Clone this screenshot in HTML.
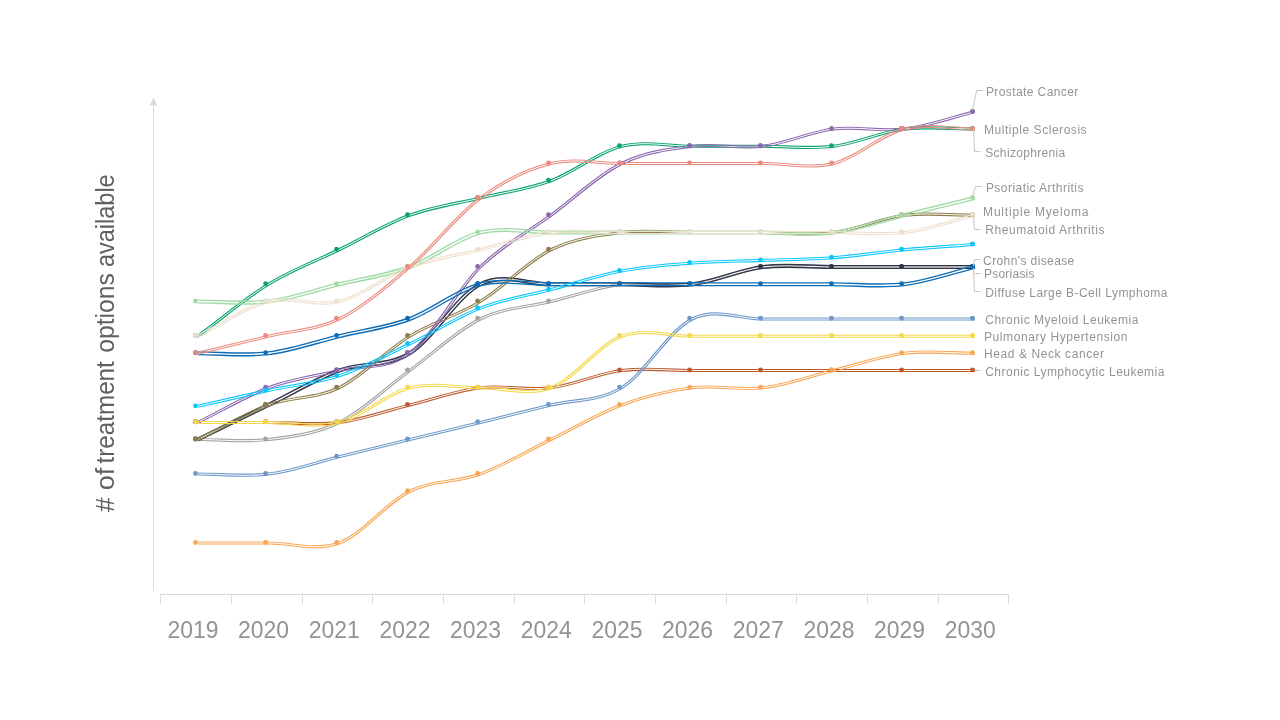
<!DOCTYPE html>
<html><head><meta charset="utf-8"><title>Treatment options</title>
<style>
html,body{margin:0;padding:0;background:#fff;}
body{width:1280px;height:720px;overflow:hidden;font-family:"Liberation Sans",sans-serif;}
svg{display:block;position:absolute;left:0;top:0;will-change:transform;}
.yr{font-family:"Liberation Sans",sans-serif;font-size:24.7px;fill:#939393;}
.lb{font-family:"Liberation Sans",sans-serif;font-size:12px;fill:#939393;}
.yt{font-family:"Liberation Sans",sans-serif;font-size:26px;fill:#606060;}
</style></head><body>
<svg width="1280" height="720" viewBox="0 0 1280 720">
<defs>
<mask id="m_gray" maskUnits="userSpaceOnUse" x="150" y="90" width="860" height="480"><path d="M197.80 439.50 C221.35 439.50 244.89 442.33 268.44 439.50 C291.98 436.67 315.53 434.00 339.07 422.50 C362.62 411.00 386.16 387.75 409.71 370.50 C433.25 353.25 456.80 330.50 480.34 319.00 C503.89 307.50 527.43 307.29 550.98 301.50 C574.53 295.71 598.07 287.12 621.62 284.25 C645.16 281.38 668.71 287.12 692.25 284.25 C715.80 281.38 739.34 269.88 762.89 267.00 C786.43 264.12 809.98 267.00 833.52 267.00 C857.07 267.00 880.61 267.00 904.16 267.00 C927.71 267.00 951.25 267.00 974.80 267.00" fill="none" stroke="#fff" stroke-width="3.1"/><path d="M197.80 439.50 C221.35 439.50 244.89 442.33 268.44 439.50 C291.98 436.67 315.53 434.00 339.07 422.50 C362.62 411.00 386.16 387.75 409.71 370.50 C433.25 353.25 456.80 330.50 480.34 319.00 C503.89 307.50 527.43 307.29 550.98 301.50 C574.53 295.71 598.07 287.12 621.62 284.25 C645.16 281.38 668.71 287.12 692.25 284.25 C715.80 281.38 739.34 269.88 762.89 267.00 C786.43 264.12 809.98 267.00 833.52 267.00 C857.07 267.00 880.61 267.00 904.16 267.00 C927.71 267.00 951.25 267.00 974.80 267.00" fill="none" stroke="#000" stroke-width="1.0"/></mask>
<mask id="m_navy" maskUnits="userSpaceOnUse" x="150" y="90" width="860" height="480"><path d="M197.80 439.50 C221.35 428.00 244.89 416.50 268.44 405.00 C291.98 393.50 315.53 379.12 339.07 370.50 C362.62 361.88 386.16 367.62 409.71 353.25 C433.25 338.88 456.80 295.75 480.34 284.25 C503.89 272.75 527.43 284.25 550.98 284.25 C574.53 284.25 598.07 284.25 621.62 284.25 C645.16 284.25 668.71 287.12 692.25 284.25 C715.80 281.38 739.34 269.88 762.89 267.00 C786.43 264.12 809.98 267.00 833.52 267.00 C857.07 267.00 880.61 267.00 904.16 267.00 C927.71 267.00 951.25 267.00 974.80 267.00" fill="none" stroke="#fff" stroke-width="4.1"/><path d="M197.80 439.50 C221.35 428.00 244.89 416.50 268.44 405.00 C291.98 393.50 315.53 379.12 339.07 370.50 C362.62 361.88 386.16 367.62 409.71 353.25 C433.25 338.88 456.80 295.75 480.34 284.25 C503.89 272.75 527.43 284.25 550.98 284.25 C574.53 284.25 598.07 284.25 621.62 284.25 C645.16 284.25 668.71 287.12 692.25 284.25 C715.80 281.38 739.34 269.88 762.89 267.00 C786.43 264.12 809.98 267.00 833.52 267.00 C857.07 267.00 880.61 267.00 904.16 267.00 C927.71 267.00 951.25 267.00 974.80 267.00" fill="none" stroke="#000" stroke-width="1.3"/></mask>
<mask id="m_brown" maskUnits="userSpaceOnUse" x="150" y="90" width="860" height="480"><path d="M197.80 422.50 C221.35 422.50 244.89 422.50 268.44 422.50 C291.98 422.50 315.53 425.42 339.07 422.50 C362.62 419.58 386.16 410.79 409.71 405.00 C433.25 399.21 456.80 390.62 480.34 387.75 C503.89 384.88 527.43 390.62 550.98 387.75 C574.53 384.88 598.07 373.38 621.62 370.50 C645.16 367.62 668.71 370.50 692.25 370.50 C715.80 370.50 739.34 370.50 762.89 370.50 C786.43 370.50 809.98 370.50 833.52 370.50 C857.07 370.50 880.61 370.50 904.16 370.50 C927.71 370.50 951.25 370.50 974.80 370.50" fill="none" stroke="#fff" stroke-width="3.1"/><path d="M197.80 422.50 C221.35 422.50 244.89 422.50 268.44 422.50 C291.98 422.50 315.53 425.42 339.07 422.50 C362.62 419.58 386.16 410.79 409.71 405.00 C433.25 399.21 456.80 390.62 480.34 387.75 C503.89 384.88 527.43 390.62 550.98 387.75 C574.53 384.88 598.07 373.38 621.62 370.50 C645.16 367.62 668.71 370.50 692.25 370.50 C715.80 370.50 739.34 370.50 762.89 370.50 C786.43 370.50 809.98 370.50 833.52 370.50 C857.07 370.50 880.61 370.50 904.16 370.50 C927.71 370.50 951.25 370.50 974.80 370.50" fill="none" stroke="#000" stroke-width="1.0"/></mask>
<mask id="m_dgreen" maskUnits="userSpaceOnUse" x="150" y="90" width="860" height="480"><path d="M197.80 336.25 C221.35 318.92 244.89 298.67 268.44 284.25 C291.98 269.83 315.53 261.25 339.07 249.75 C362.62 238.25 386.16 223.88 409.71 215.25 C433.25 206.62 456.80 203.75 480.34 198.00 C503.89 192.25 527.43 189.38 550.98 180.75 C574.53 172.12 598.07 152.00 621.62 146.25 C645.16 140.50 668.71 146.25 692.25 146.25 C715.80 146.25 739.34 146.25 762.89 146.25 C786.43 146.25 809.98 149.12 833.52 146.25 C857.07 143.38 880.61 131.88 904.16 129.00 C927.71 126.12 951.25 129.00 974.80 129.00" fill="none" stroke="#fff" stroke-width="3.1"/><path d="M197.80 336.25 C221.35 318.92 244.89 298.67 268.44 284.25 C291.98 269.83 315.53 261.25 339.07 249.75 C362.62 238.25 386.16 223.88 409.71 215.25 C433.25 206.62 456.80 203.75 480.34 198.00 C503.89 192.25 527.43 189.38 550.98 180.75 C574.53 172.12 598.07 152.00 621.62 146.25 C645.16 140.50 668.71 146.25 692.25 146.25 C715.80 146.25 739.34 146.25 762.89 146.25 C786.43 146.25 809.98 149.12 833.52 146.25 C857.07 143.38 880.61 131.88 904.16 129.00 C927.71 126.12 951.25 129.00 974.80 129.00" fill="none" stroke="#000" stroke-width="1.0"/></mask>
<mask id="m_cml" maskUnits="userSpaceOnUse" x="150" y="90" width="860" height="480"><path d="M197.80 474.00 C221.35 474.00 244.89 476.88 268.44 474.00 C291.98 471.12 315.53 462.50 339.07 456.75 C362.62 451.00 386.16 445.21 409.71 439.50 C433.25 433.79 456.80 428.25 480.34 422.50 C503.89 416.75 527.43 410.79 550.98 405.00 C574.53 399.21 598.07 402.08 621.62 387.75 C645.16 373.42 668.71 330.46 692.25 319.00 C715.80 307.54 739.34 319.00 762.89 319.00 C786.43 319.00 809.98 319.00 833.52 319.00 C857.07 319.00 880.61 319.00 904.16 319.00 C927.71 319.00 951.25 319.00 974.80 319.00" fill="none" stroke="#fff" stroke-width="3.1"/><path d="M197.80 474.00 C221.35 474.00 244.89 476.88 268.44 474.00 C291.98 471.12 315.53 462.50 339.07 456.75 C362.62 451.00 386.16 445.21 409.71 439.50 C433.25 433.79 456.80 428.25 480.34 422.50 C503.89 416.75 527.43 410.79 550.98 405.00 C574.53 399.21 598.07 402.08 621.62 387.75 C645.16 373.42 668.71 330.46 692.25 319.00 C715.80 307.54 739.34 319.00 762.89 319.00 C786.43 319.00 809.98 319.00 833.52 319.00 C857.07 319.00 880.61 319.00 904.16 319.00 C927.71 319.00 951.25 319.00 974.80 319.00" fill="none" stroke="#000" stroke-width="1.0"/></mask>
<mask id="m_olive" maskUnits="userSpaceOnUse" x="150" y="90" width="860" height="480"><path d="M197.80 439.50 C221.35 428.00 244.89 413.62 268.44 405.00 C291.98 396.38 315.53 399.21 339.07 387.75 C362.62 376.29 386.16 350.62 409.71 336.25 C433.25 321.88 456.80 315.92 480.34 301.50 C503.89 287.08 527.43 261.25 550.98 249.75 C574.53 238.25 598.07 235.38 621.62 232.50 C645.16 229.62 668.71 232.50 692.25 232.50 C715.80 232.50 739.34 232.50 762.89 232.50 C786.43 232.50 809.98 235.38 833.52 232.50 C857.07 229.62 880.61 218.12 904.16 215.25 C927.71 212.38 951.25 215.25 974.80 215.25" fill="none" stroke="#fff" stroke-width="3.1"/><path d="M197.80 439.50 C221.35 428.00 244.89 413.62 268.44 405.00 C291.98 396.38 315.53 399.21 339.07 387.75 C362.62 376.29 386.16 350.62 409.71 336.25 C433.25 321.88 456.80 315.92 480.34 301.50 C503.89 287.08 527.43 261.25 550.98 249.75 C574.53 238.25 598.07 235.38 621.62 232.50 C645.16 229.62 668.71 232.50 692.25 232.50 C715.80 232.50 739.34 232.50 762.89 232.50 C786.43 232.50 809.98 235.38 833.52 232.50 C857.07 229.62 880.61 218.12 904.16 215.25 C927.71 212.38 951.25 215.25 974.80 215.25" fill="none" stroke="#000" stroke-width="1.0"/></mask>
<mask id="m_purple" maskUnits="userSpaceOnUse" x="150" y="90" width="860" height="480"><path d="M197.80 422.50 C221.35 410.92 244.89 396.42 268.44 387.75 C291.98 379.08 315.53 376.25 339.07 370.50 C362.62 364.75 386.16 370.50 409.71 353.25 C433.25 336.00 456.80 290.00 480.34 267.00 C503.89 244.00 527.43 232.50 550.98 215.25 C574.53 198.00 598.07 175.00 621.62 163.50 C645.16 152.00 668.71 149.12 692.25 146.25 C715.80 143.38 739.34 149.12 762.89 146.25 C786.43 143.38 809.98 131.88 833.52 129.00 C857.07 126.12 880.61 131.88 904.16 129.00 C927.71 126.12 951.25 117.50 974.80 111.75" fill="none" stroke="#fff" stroke-width="3.1"/><path d="M197.80 422.50 C221.35 410.92 244.89 396.42 268.44 387.75 C291.98 379.08 315.53 376.25 339.07 370.50 C362.62 364.75 386.16 370.50 409.71 353.25 C433.25 336.00 456.80 290.00 480.34 267.00 C503.89 244.00 527.43 232.50 550.98 215.25 C574.53 198.00 598.07 175.00 621.62 163.50 C645.16 152.00 668.71 149.12 692.25 146.25 C715.80 143.38 739.34 149.12 762.89 146.25 C786.43 143.38 809.98 131.88 833.52 129.00 C857.07 126.12 880.61 131.88 904.16 129.00 C927.71 126.12 951.25 117.50 974.80 111.75" fill="none" stroke="#000" stroke-width="1.0"/></mask>
<mask id="m_lgreen" maskUnits="userSpaceOnUse" x="150" y="90" width="860" height="480"><path d="M197.80 301.50 C221.35 301.50 244.89 304.38 268.44 301.50 C291.98 298.62 315.53 290.00 339.07 284.25 C362.62 278.50 386.16 275.62 409.71 267.00 C433.25 258.38 456.80 238.25 480.34 232.50 C503.89 226.75 527.43 232.50 550.98 232.50 C574.53 232.50 598.07 232.50 621.62 232.50 C645.16 232.50 668.71 232.50 692.25 232.50 C715.80 232.50 739.34 232.50 762.89 232.50 C786.43 232.50 809.98 235.38 833.52 232.50 C857.07 229.62 880.61 221.00 904.16 215.25 C927.71 209.50 951.25 203.75 974.80 198.00" fill="none" stroke="#fff" stroke-width="4.1"/><path d="M197.80 301.50 C221.35 301.50 244.89 304.38 268.44 301.50 C291.98 298.62 315.53 290.00 339.07 284.25 C362.62 278.50 386.16 275.62 409.71 267.00 C433.25 258.38 456.80 238.25 480.34 232.50 C503.89 226.75 527.43 232.50 550.98 232.50 C574.53 232.50 598.07 232.50 621.62 232.50 C645.16 232.50 668.71 232.50 692.25 232.50 C715.80 232.50 739.34 232.50 762.89 232.50 C786.43 232.50 809.98 235.38 833.52 232.50 C857.07 229.62 880.61 221.00 904.16 215.25 C927.71 209.50 951.25 203.75 974.80 198.00" fill="none" stroke="#000" stroke-width="1.3"/></mask>
<mask id="m_beige" maskUnits="userSpaceOnUse" x="150" y="90" width="860" height="480"><path d="M197.80 336.25 C221.35 324.67 244.89 307.29 268.44 301.50 C291.98 295.71 315.53 307.25 339.07 301.50 C362.62 295.75 386.16 275.62 409.71 267.00 C433.25 258.38 456.80 255.50 480.34 249.75 C503.89 244.00 527.43 235.38 550.98 232.50 C574.53 229.62 598.07 232.50 621.62 232.50 C645.16 232.50 668.71 232.50 692.25 232.50 C715.80 232.50 739.34 232.50 762.89 232.50 C786.43 232.50 809.98 232.50 833.52 232.50 C857.07 232.50 880.61 235.38 904.16 232.50 C927.71 229.62 951.25 221.00 974.80 215.25" fill="none" stroke="#fff" stroke-width="3.1"/><path d="M197.80 336.25 C221.35 324.67 244.89 307.29 268.44 301.50 C291.98 295.71 315.53 307.25 339.07 301.50 C362.62 295.75 386.16 275.62 409.71 267.00 C433.25 258.38 456.80 255.50 480.34 249.75 C503.89 244.00 527.43 235.38 550.98 232.50 C574.53 229.62 598.07 232.50 621.62 232.50 C645.16 232.50 668.71 232.50 692.25 232.50 C715.80 232.50 739.34 232.50 762.89 232.50 C786.43 232.50 809.98 232.50 833.52 232.50 C857.07 232.50 880.61 235.38 904.16 232.50 C927.71 229.62 951.25 221.00 974.80 215.25" fill="none" stroke="#000" stroke-width="1.0"/></mask>
<mask id="m_blue" maskUnits="userSpaceOnUse" x="150" y="90" width="860" height="480"><path d="M197.80 353.25 C221.35 353.25 244.89 356.08 268.44 353.25 C291.98 350.42 315.53 341.96 339.07 336.25 C362.62 330.54 386.16 327.67 409.71 319.00 C433.25 310.33 456.80 290.04 480.34 284.25 C503.89 278.46 527.43 284.25 550.98 284.25 C574.53 284.25 598.07 284.25 621.62 284.25 C645.16 284.25 668.71 284.25 692.25 284.25 C715.80 284.25 739.34 284.25 762.89 284.25 C786.43 284.25 809.98 284.25 833.52 284.25 C857.07 284.25 880.61 287.12 904.16 284.25 C927.71 281.38 951.25 272.75 974.80 267.00" fill="none" stroke="#fff" stroke-width="4.1"/><path d="M197.80 353.25 C221.35 353.25 244.89 356.08 268.44 353.25 C291.98 350.42 315.53 341.96 339.07 336.25 C362.62 330.54 386.16 327.67 409.71 319.00 C433.25 310.33 456.80 290.04 480.34 284.25 C503.89 278.46 527.43 284.25 550.98 284.25 C574.53 284.25 598.07 284.25 621.62 284.25 C645.16 284.25 668.71 284.25 692.25 284.25 C715.80 284.25 739.34 284.25 762.89 284.25 C786.43 284.25 809.98 284.25 833.52 284.25 C857.07 284.25 880.61 287.12 904.16 284.25 C927.71 281.38 951.25 272.75 974.80 267.00" fill="none" stroke="#000" stroke-width="1.3"/></mask>
<mask id="m_salmon" maskUnits="userSpaceOnUse" x="150" y="90" width="860" height="480"><path d="M197.80 353.25 C221.35 347.58 244.89 341.96 268.44 336.25 C291.98 330.54 315.53 330.54 339.07 319.00 C362.62 307.46 386.16 287.17 409.71 267.00 C433.25 246.83 456.80 215.25 480.34 198.00 C503.89 180.75 527.43 169.25 550.98 163.50 C574.53 157.75 598.07 163.50 621.62 163.50 C645.16 163.50 668.71 163.50 692.25 163.50 C715.80 163.50 739.34 163.50 762.89 163.50 C786.43 163.50 809.98 169.25 833.52 163.50 C857.07 157.75 880.61 134.75 904.16 129.00 C927.71 123.25 951.25 129.00 974.80 129.00" fill="none" stroke="#fff" stroke-width="3.1"/><path d="M197.80 353.25 C221.35 347.58 244.89 341.96 268.44 336.25 C291.98 330.54 315.53 330.54 339.07 319.00 C362.62 307.46 386.16 287.17 409.71 267.00 C433.25 246.83 456.80 215.25 480.34 198.00 C503.89 180.75 527.43 169.25 550.98 163.50 C574.53 157.75 598.07 163.50 621.62 163.50 C645.16 163.50 668.71 163.50 692.25 163.50 C715.80 163.50 739.34 163.50 762.89 163.50 C786.43 163.50 809.98 169.25 833.52 163.50 C857.07 157.75 880.61 134.75 904.16 129.00 C927.71 123.25 951.25 129.00 974.80 129.00" fill="none" stroke="#000" stroke-width="1.0"/></mask>
<mask id="m_yellow" maskUnits="userSpaceOnUse" x="150" y="90" width="860" height="480"><path d="M197.80 422.50 C221.35 422.50 244.89 422.50 268.44 422.50 C291.98 422.50 315.53 428.29 339.07 422.50 C362.62 416.71 386.16 393.54 409.71 387.75 C433.25 381.96 456.80 387.75 480.34 387.75 C503.89 387.75 527.43 396.33 550.98 387.75 C574.53 379.17 598.07 344.83 621.62 336.25 C645.16 327.67 668.71 336.25 692.25 336.25 C715.80 336.25 739.34 336.25 762.89 336.25 C786.43 336.25 809.98 336.25 833.52 336.25 C857.07 336.25 880.61 336.25 904.16 336.25 C927.71 336.25 951.25 336.25 974.80 336.25" fill="none" stroke="#fff" stroke-width="3.1"/><path d="M197.80 422.50 C221.35 422.50 244.89 422.50 268.44 422.50 C291.98 422.50 315.53 428.29 339.07 422.50 C362.62 416.71 386.16 393.54 409.71 387.75 C433.25 381.96 456.80 387.75 480.34 387.75 C503.89 387.75 527.43 396.33 550.98 387.75 C574.53 379.17 598.07 344.83 621.62 336.25 C645.16 327.67 668.71 336.25 692.25 336.25 C715.80 336.25 739.34 336.25 762.89 336.25 C786.43 336.25 809.98 336.25 833.52 336.25 C857.07 336.25 880.61 336.25 904.16 336.25 C927.71 336.25 951.25 336.25 974.80 336.25" fill="none" stroke="#000" stroke-width="1.0"/></mask>
<mask id="m_orange" maskUnits="userSpaceOnUse" x="150" y="90" width="860" height="480"><path d="M197.80 543.00 C221.35 543.00 244.89 543.00 268.44 543.00 C291.98 543.00 315.53 551.62 339.07 543.00 C362.62 534.38 386.16 502.75 409.71 491.25 C433.25 479.75 456.80 482.62 480.34 474.00 C503.89 465.38 527.43 451.00 550.98 439.50 C574.53 428.00 598.07 413.62 621.62 405.00 C645.16 396.38 668.71 390.62 692.25 387.75 C715.80 384.88 739.34 390.62 762.89 387.75 C786.43 384.88 809.98 376.25 833.52 370.50 C857.07 364.75 880.61 356.12 904.16 353.25 C927.71 350.38 951.25 353.25 974.80 353.25" fill="none" stroke="#fff" stroke-width="3.1"/><path d="M197.80 543.00 C221.35 543.00 244.89 543.00 268.44 543.00 C291.98 543.00 315.53 551.62 339.07 543.00 C362.62 534.38 386.16 502.75 409.71 491.25 C433.25 479.75 456.80 482.62 480.34 474.00 C503.89 465.38 527.43 451.00 550.98 439.50 C574.53 428.00 598.07 413.62 621.62 405.00 C645.16 396.38 668.71 390.62 692.25 387.75 C715.80 384.88 739.34 390.62 762.89 387.75 C786.43 384.88 809.98 376.25 833.52 370.50 C857.07 364.75 880.61 356.12 904.16 353.25 C927.71 350.38 951.25 353.25 974.80 353.25" fill="none" stroke="#000" stroke-width="1.0"/></mask>
<mask id="m_cyan" maskUnits="userSpaceOnUse" x="150" y="90" width="860" height="480"><path d="M197.80 406.33 C221.35 401.02 244.89 395.49 268.44 390.40 C291.98 385.32 315.53 383.55 339.07 375.81 C362.62 368.07 386.16 355.24 409.71 343.96 C433.25 332.68 456.80 317.20 480.34 308.13 C503.89 299.07 527.43 295.75 550.98 289.56 C574.53 283.37 598.07 275.40 621.62 270.98 C645.16 266.56 668.71 264.79 692.25 263.02 C715.80 261.25 739.34 261.25 762.89 260.37 C786.43 259.48 809.98 259.48 833.52 257.71 C857.07 255.94 880.61 251.96 904.16 249.75 C927.71 247.54 951.25 246.21 974.80 244.44" fill="none" stroke="#fff" stroke-width="3.1"/><path d="M197.80 406.33 C221.35 401.02 244.89 395.49 268.44 390.40 C291.98 385.32 315.53 383.55 339.07 375.81 C362.62 368.07 386.16 355.24 409.71 343.96 C433.25 332.68 456.80 317.20 480.34 308.13 C503.89 299.07 527.43 295.75 550.98 289.56 C574.53 283.37 598.07 275.40 621.62 270.98 C645.16 266.56 668.71 264.79 692.25 263.02 C715.80 261.25 739.34 261.25 762.89 260.37 C786.43 259.48 809.98 259.48 833.52 257.71 C857.07 255.94 880.61 251.96 904.16 249.75 C927.71 247.54 951.25 246.21 974.80 244.44" fill="none" stroke="#000" stroke-width="1.0"/></mask>
</defs>
<g><path d="M153.5 591V105" stroke="#dbdbdb" stroke-width="1" fill="none"/>
<path d="M153.5 97.6l3.8 7.8h-7.6z" fill="#dbdbdb"/>
<path d="M160 594.5H1009" stroke="#dbdbdb" stroke-width="1" fill="none"/>
<path d="M160.5 594V604M231.5 594V604M302.5 594V604M372.5 594V604M443.5 594V604M514.5 594V604M584.5 594V604M655.5 594V604M726.5 594V604M796.5 594V604M867.5 594V604M938.5 594V604M1008.5 594V604" stroke="#dbdbdb" stroke-width="1" fill="none"/></g>
<g>
<rect x="150" y="90" width="860" height="480" fill="#a3a3a3" mask="url(#m_gray)"/>
<g fill="#a3a3a3"><circle cx="195.50" cy="439.00" r="2.4"/><circle cx="265.60" cy="439.00" r="2.4"/><circle cx="336.60" cy="421.75" r="2.4"/><circle cx="407.50" cy="370.00" r="2.4"/><circle cx="477.60" cy="318.25" r="2.4"/><circle cx="548.50" cy="301.00" r="2.4"/><circle cx="619.50" cy="283.75" r="2.4"/><circle cx="689.60" cy="283.75" r="2.4"/><circle cx="760.50" cy="266.50" r="2.4"/><circle cx="831.50" cy="266.50" r="2.4"/><circle cx="901.60" cy="266.50" r="2.4"/><circle cx="972.50" cy="266.50" r="2.4"/></g>
<rect x="150" y="90" width="860" height="480" fill="#2f3547" mask="url(#m_navy)"/>
<g fill="#2f3547"><circle cx="195.50" cy="439.00" r="2.4"/><circle cx="265.60" cy="404.50" r="2.4"/><circle cx="336.60" cy="370.00" r="2.4"/><circle cx="407.50" cy="352.75" r="2.4"/><circle cx="477.60" cy="283.75" r="2.4"/><circle cx="548.50" cy="283.75" r="2.4"/><circle cx="619.50" cy="283.75" r="2.4"/><circle cx="689.60" cy="283.75" r="2.4"/><circle cx="760.50" cy="266.50" r="2.4"/><circle cx="831.50" cy="266.50" r="2.4"/><circle cx="901.60" cy="266.50" r="2.4"/><circle cx="972.50" cy="266.50" r="2.4"/></g>
<rect x="150" y="90" width="860" height="480" fill="#bd5a2d" mask="url(#m_brown)"/>
<g fill="#bd5a2d"><circle cx="195.50" cy="421.75" r="2.4"/><circle cx="265.60" cy="421.75" r="2.4"/><circle cx="336.60" cy="421.75" r="2.4"/><circle cx="407.50" cy="404.50" r="2.4"/><circle cx="477.60" cy="387.25" r="2.4"/><circle cx="548.50" cy="387.25" r="2.4"/><circle cx="619.50" cy="370.00" r="2.4"/><circle cx="689.60" cy="370.00" r="2.4"/><circle cx="760.50" cy="370.00" r="2.4"/><circle cx="831.50" cy="370.00" r="2.4"/><circle cx="901.60" cy="370.00" r="2.4"/><circle cx="972.50" cy="370.00" r="2.4"/></g>
<rect x="150" y="90" width="860" height="480" fill="#0aa36f" mask="url(#m_dgreen)"/>
<g fill="#0aa36f"><circle cx="195.50" cy="335.50" r="2.4"/><circle cx="265.60" cy="283.75" r="2.4"/><circle cx="336.60" cy="249.25" r="2.4"/><circle cx="407.50" cy="214.75" r="2.4"/><circle cx="477.60" cy="197.50" r="2.4"/><circle cx="548.50" cy="180.25" r="2.4"/><circle cx="619.50" cy="145.75" r="2.4"/><circle cx="689.60" cy="145.75" r="2.4"/><circle cx="760.50" cy="145.75" r="2.4"/><circle cx="831.50" cy="145.75" r="2.4"/><circle cx="901.60" cy="128.50" r="2.4"/><circle cx="972.50" cy="128.50" r="2.4"/></g>
<rect x="150" y="90" width="860" height="480" fill="#6f97c9" mask="url(#m_cml)"/>
<g fill="#6f97c9"><circle cx="195.50" cy="473.50" r="2.4"/><circle cx="265.60" cy="473.50" r="2.4"/><circle cx="336.60" cy="456.25" r="2.4"/><circle cx="407.50" cy="439.00" r="2.4"/><circle cx="477.60" cy="421.75" r="2.4"/><circle cx="548.50" cy="404.50" r="2.4"/><circle cx="619.50" cy="387.25" r="2.4"/><circle cx="689.60" cy="318.25" r="2.4"/><circle cx="760.50" cy="318.25" r="2.4"/><circle cx="831.50" cy="318.25" r="2.4"/><circle cx="901.60" cy="318.25" r="2.4"/><circle cx="972.50" cy="318.25" r="2.4"/></g>
<rect x="150" y="90" width="860" height="480" fill="#8f7e4d" mask="url(#m_olive)"/>
<g fill="#8f7e4d"><circle cx="195.50" cy="439.00" r="2.4"/><circle cx="265.60" cy="404.50" r="2.4"/><circle cx="336.60" cy="387.25" r="2.4"/><circle cx="407.50" cy="335.50" r="2.4"/><circle cx="477.60" cy="301.00" r="2.4"/><circle cx="548.50" cy="249.25" r="2.4"/><circle cx="619.50" cy="232.00" r="2.4"/><circle cx="689.60" cy="232.00" r="2.4"/><circle cx="760.50" cy="232.00" r="2.4"/><circle cx="831.50" cy="232.00" r="2.4"/><circle cx="901.60" cy="214.75" r="2.4"/><circle cx="972.50" cy="214.75" r="2.4"/></g>
<rect x="150" y="90" width="860" height="480" fill="#8a66ae" mask="url(#m_purple)"/>
<g fill="#8a66ae"><circle cx="195.50" cy="421.75" r="2.4"/><circle cx="265.60" cy="387.25" r="2.4"/><circle cx="336.60" cy="370.00" r="2.4"/><circle cx="407.50" cy="352.75" r="2.4"/><circle cx="477.60" cy="266.50" r="2.4"/><circle cx="548.50" cy="214.75" r="2.4"/><circle cx="619.50" cy="163.00" r="2.4"/><circle cx="689.60" cy="145.75" r="2.4"/><circle cx="760.50" cy="145.75" r="2.4"/><circle cx="831.50" cy="128.50" r="2.4"/><circle cx="901.60" cy="128.50" r="2.4"/><circle cx="972.50" cy="111.25" r="2.4"/></g>
<rect x="150" y="90" width="860" height="480" fill="#a0dba5" mask="url(#m_lgreen)"/>
<g fill="#a0dba5"><circle cx="195.50" cy="301.00" r="2.4"/><circle cx="265.60" cy="301.00" r="2.4"/><circle cx="336.60" cy="283.75" r="2.4"/><circle cx="407.50" cy="266.50" r="2.4"/><circle cx="477.60" cy="232.00" r="2.4"/><circle cx="548.50" cy="232.00" r="2.4"/><circle cx="619.50" cy="232.00" r="2.4"/><circle cx="689.60" cy="232.00" r="2.4"/><circle cx="760.50" cy="232.00" r="2.4"/><circle cx="831.50" cy="232.00" r="2.4"/><circle cx="901.60" cy="214.75" r="2.4"/><circle cx="972.50" cy="197.50" r="2.4"/></g>
<rect x="150" y="90" width="860" height="480" fill="#ecdfcb" mask="url(#m_beige)"/>
<g fill="#ecdfcb"><circle cx="195.50" cy="335.50" r="2.4"/><circle cx="265.60" cy="301.00" r="2.4"/><circle cx="336.60" cy="301.00" r="2.4"/><circle cx="407.50" cy="266.50" r="2.4"/><circle cx="477.60" cy="249.25" r="2.4"/><circle cx="548.50" cy="232.00" r="2.4"/><circle cx="619.50" cy="232.00" r="2.4"/><circle cx="689.60" cy="232.00" r="2.4"/><circle cx="760.50" cy="232.00" r="2.4"/><circle cx="831.50" cy="232.00" r="2.4"/><circle cx="901.60" cy="232.00" r="2.4"/><circle cx="972.50" cy="214.75" r="2.4"/></g>
<rect x="150" y="90" width="860" height="480" fill="#0d6cb6" mask="url(#m_blue)"/>
<g fill="#0d6cb6"><circle cx="195.50" cy="352.75" r="2.4"/><circle cx="265.60" cy="352.75" r="2.4"/><circle cx="336.60" cy="335.50" r="2.4"/><circle cx="407.50" cy="318.25" r="2.4"/><circle cx="477.60" cy="283.75" r="2.4"/><circle cx="548.50" cy="283.75" r="2.4"/><circle cx="619.50" cy="283.75" r="2.4"/><circle cx="689.60" cy="283.75" r="2.4"/><circle cx="760.50" cy="283.75" r="2.4"/><circle cx="831.50" cy="283.75" r="2.4"/><circle cx="901.60" cy="283.75" r="2.4"/><circle cx="972.50" cy="266.50" r="2.4"/></g>
<rect x="150" y="90" width="860" height="480" fill="#ea8a7e" mask="url(#m_salmon)"/>
<g fill="#ea8a7e"><circle cx="195.50" cy="352.75" r="2.4"/><circle cx="265.60" cy="335.50" r="2.4"/><circle cx="336.60" cy="318.25" r="2.4"/><circle cx="407.50" cy="266.50" r="2.4"/><circle cx="477.60" cy="197.50" r="2.4"/><circle cx="548.50" cy="163.00" r="2.4"/><circle cx="619.50" cy="163.00" r="2.4"/><circle cx="689.60" cy="163.00" r="2.4"/><circle cx="760.50" cy="163.00" r="2.4"/><circle cx="831.50" cy="163.00" r="2.4"/><circle cx="901.60" cy="128.50" r="2.4"/><circle cx="972.50" cy="128.50" r="2.4"/></g>
<rect x="150" y="90" width="860" height="480" fill="#f4d849" mask="url(#m_yellow)"/>
<g fill="#f4d849"><circle cx="195.50" cy="421.75" r="2.4"/><circle cx="265.60" cy="421.75" r="2.4"/><circle cx="336.60" cy="421.75" r="2.4"/><circle cx="407.50" cy="387.25" r="2.4"/><circle cx="477.60" cy="387.25" r="2.4"/><circle cx="548.50" cy="387.25" r="2.4"/><circle cx="619.50" cy="335.50" r="2.4"/><circle cx="689.60" cy="335.50" r="2.4"/><circle cx="760.50" cy="335.50" r="2.4"/><circle cx="831.50" cy="335.50" r="2.4"/><circle cx="901.60" cy="335.50" r="2.4"/><circle cx="972.50" cy="335.50" r="2.4"/></g>
<rect x="150" y="90" width="860" height="480" fill="#f9a655" mask="url(#m_orange)"/>
<g fill="#f9a655"><circle cx="195.50" cy="542.50" r="2.4"/><circle cx="265.60" cy="542.50" r="2.4"/><circle cx="336.60" cy="542.50" r="2.4"/><circle cx="407.50" cy="490.75" r="2.4"/><circle cx="477.60" cy="473.50" r="2.4"/><circle cx="548.50" cy="439.00" r="2.4"/><circle cx="619.50" cy="404.50" r="2.4"/><circle cx="689.60" cy="387.25" r="2.4"/><circle cx="760.50" cy="387.25" r="2.4"/><circle cx="831.50" cy="370.00" r="2.4"/><circle cx="901.60" cy="352.75" r="2.4"/><circle cx="972.50" cy="352.75" r="2.4"/></g>
<rect x="150" y="90" width="860" height="480" fill="#06c6fc" mask="url(#m_cyan)"/>
<g fill="#06c6fc"><circle cx="195.50" cy="405.83" r="2.4"/><circle cx="265.60" cy="389.90" r="2.4"/><circle cx="336.60" cy="375.31" r="2.4"/><circle cx="407.50" cy="343.46" r="2.4"/><circle cx="477.60" cy="307.63" r="2.4"/><circle cx="548.50" cy="289.06" r="2.4"/><circle cx="619.50" cy="270.48" r="2.4"/><circle cx="689.60" cy="262.52" r="2.4"/><circle cx="760.50" cy="259.87" r="2.4"/><circle cx="831.50" cy="257.21" r="2.4"/><circle cx="901.60" cy="249.25" r="2.4"/><circle cx="972.50" cy="243.94" r="2.4"/></g>
</g>
<path d="M972.5 110.5L976.6 90.5H982.7M973.5 128.5L974.5 151.5H980.5M972.5 197L975.5 186.5H981.5M973.5 216L974.5 229.5H980.5M973.5 266L974.5 259.5H980.5M974.5 273.5H980.5M973.5 268L974.5 291.5H980.5M975 370.5H980.5" stroke="#c6c6c6" stroke-width="1" fill="none"/>
<g class="yr"><text x="167.4" y="638" textLength="51" lengthAdjust="spacingAndGlyphs">2019</text><text x="238.1" y="638" textLength="51" lengthAdjust="spacingAndGlyphs">2020</text><text x="308.8" y="638" textLength="51" lengthAdjust="spacingAndGlyphs">2021</text><text x="379.4" y="638" textLength="51" lengthAdjust="spacingAndGlyphs">2022</text><text x="450.1" y="638" textLength="51" lengthAdjust="spacingAndGlyphs">2023</text><text x="520.8" y="638" textLength="51" lengthAdjust="spacingAndGlyphs">2024</text><text x="591.4" y="638" textLength="51" lengthAdjust="spacingAndGlyphs">2025</text><text x="662.1" y="638" textLength="51" lengthAdjust="spacingAndGlyphs">2026</text><text x="732.8" y="638" textLength="51" lengthAdjust="spacingAndGlyphs">2027</text><text x="803.4" y="638" textLength="51" lengthAdjust="spacingAndGlyphs">2028</text><text x="874.1" y="638" textLength="51" lengthAdjust="spacingAndGlyphs">2029</text><text x="944.8" y="638" textLength="51" lengthAdjust="spacingAndGlyphs">2030</text></g>
<g class="lb"><text x="985.9" y="95.9" textLength="92.4" lengthAdjust="spacing">Prostate Cancer</text><text x="984.0" y="133.8" textLength="102.6" lengthAdjust="spacing">Multiple Sclerosis</text><text x="985.2" y="156.6" textLength="80.1" lengthAdjust="spacing">Schizophrenia</text><text x="985.9" y="191.5" textLength="97.5" lengthAdjust="spacing">Psoriatic Arthritis</text><text x="983.1" y="215.6" textLength="105.4" lengthAdjust="spacing">Multiple Myeloma</text><text x="985.2" y="233.8" textLength="119.2" lengthAdjust="spacing">Rheumatoid Arthritis</text><text x="983.1" y="264.9" textLength="91.2" lengthAdjust="spacing">Crohn's disease</text><text x="984.0" y="277.5" textLength="50.5" lengthAdjust="spacing">Psoriasis</text><text x="985.2" y="296.6" textLength="182.2" lengthAdjust="spacing">Diffuse Large B-Cell Lymphoma</text><text x="985.2" y="323.5" textLength="153.2" lengthAdjust="spacing">Chronic Myeloid Leukemia</text><text x="984.0" y="341.0" textLength="143.5" lengthAdjust="spacing">Pulmonary Hypertension</text><text x="984.0" y="357.5" textLength="120.0" lengthAdjust="spacing">Head &amp; Neck cancer</text><text x="985.2" y="375.6" textLength="179.2" lengthAdjust="spacing">Chronic Lymphocytic Leukemia</text></g>
<g class="yt" transform="translate(114.3 512) rotate(-90)"><text x="0.10" y="0" textLength="14.70" lengthAdjust="spacingAndGlyphs">#</text><text x="21.80" y="0" textLength="22.60" lengthAdjust="spacingAndGlyphs">of</text><text x="48.50" y="0" textLength="102.30" lengthAdjust="spacingAndGlyphs">treatment</text><text x="159.20" y="0" textLength="79.60" lengthAdjust="spacingAndGlyphs">options</text><text x="244.90" y="0" textLength="92.80" lengthAdjust="spacingAndGlyphs">available</text></g>
</svg>
</body></html>
